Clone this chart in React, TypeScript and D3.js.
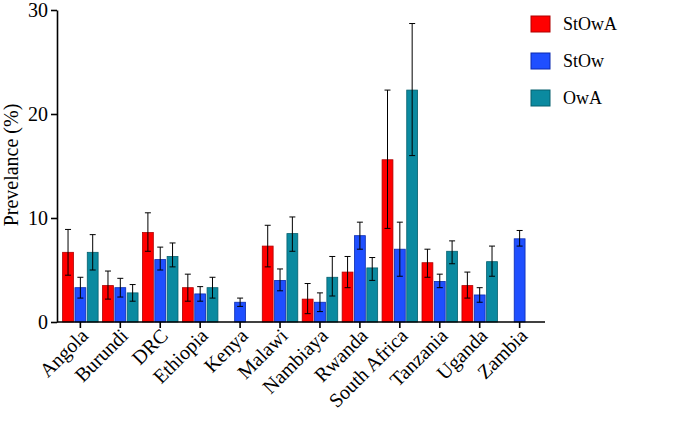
import * as d3 from "d3";
import { useEffect, useRef } from "react";

const countries = ["Angola", "Burundi", "DRC", "Ethiopia", "Kenya", "Malawi", "Nambiaya", "Rwanda", "South Africa", "Tanzania", "Uganda", "Zambia"];
const series = ["StOwA", "StOw", "OwA"];
const colors = ["#ff0000", "#1f4fff", "#0b8aa0"];
const strokes = ["#b00000", "#0a2bb0", "#06606e"];
// [value, upper, lower], null = no bar
const stOwA = [[6.7, 8.9, 4.5], [3.5, 4.9, 2.2], [8.6, 10.5, 6.8], [3.3, 4.6, 2.0], null, [7.3, 9.3, 5.3], [2.2, 3.7, 0.8], [4.8, 6.3, 3.3], [15.6, 22.3, 9.0], [5.7, 7.0, 4.3], [3.5, 4.8, 2.3], null];
const stOw = [[3.3, 4.3, 2.3], [3.3, 4.2, 2.4], [6.0, 7.2, 5.0], [2.7, 3.4, 2.0], [1.9, 2.3, 1.5], [4.0, 5.1, 3.0], [1.9, 2.8, 1.0], [8.3, 9.6, 7.0], [7.0, 9.6, 4.4], [3.9, 4.6, 3.3], [2.6, 3.3, 1.9], [8.0, 8.8, 7.3]];
const owA = [[6.7, 8.4, 5.0], [2.8, 3.6, 2.0], [6.3, 7.6, 5.3], [3.3, 4.3, 2.3], null, [8.5, 10.1, 6.8], [4.3, 6.3, 2.5], [5.2, 6.2, 4.0], [22.3, 28.7, 16.0], [6.8, 7.8, 5.6], [5.8, 7.3, 4.4], null];
const yTicks = [0, 10, 20, 30];

export default function App() {
  const ref = useRef<SVGSVGElement>(null);
  useEffect(() => {
    const svg = d3.select(ref.current);
    svg.selectAll("*").remove();
    const font = "'Liberation Serif', 'Times New Roman', serif";
    const x = d3.scaleBand().domain(countries).range([60, 540]).paddingInner(0.08).paddingOuter(0.05);
    const xs = d3.scaleBand().domain(series).range([0, x.bandwidth()]).paddingInner(0.12).paddingOuter(0.05);
    const y = d3.scaleLinear().domain([0, 30]).range([322, 10]);
    const data = [stOwA, stOw, owA];

    data.forEach((arr, si) => {
      const g = svg.append("g");
      arr.forEach((d, ci) => {
        if (!d) return;
        const bx = x(countries[ci])! + xs(series[si])!;
        const cx = bx + xs.bandwidth() / 2;
        g.append("rect").attr("x", bx).attr("y", y(d[0])).attr("width", xs.bandwidth())
          .attr("height", y(0) - y(d[0])).attr("fill", colors[si]).attr("stroke", strokes[si]).attr("stroke-width", 0.8);
        g.append("line").attr("x1", cx).attr("x2", cx).attr("y1", y(d[1])).attr("y2", y(d[2])).attr("stroke", "#000").attr("stroke-width", 1);
        [d[1], d[2]].forEach((v) => g.append("line").attr("x1", cx - 3).attr("x2", cx + 3).attr("y1", y(v)).attr("y2", y(v)).attr("stroke", "#000").attr("stroke-width", 1));
      });
    });

    const ya = svg.append("g").attr("transform", "translate(57,0)")
      .call(d3.axisLeft(y).tickValues(yTicks).tickSize(6).tickSizeOuter(0));
    ya.selectAll("text").attr("font-family", font).attr("font-size", 20).attr("fill", "#000");
    ya.selectAll("line, path").attr("stroke", "#000").attr("stroke-width", 1.6);

    const xa = svg.append("g").attr("transform", "translate(0,322)")
      .call(d3.axisBottom(x).tickSize(6).tickSizeOuter(0));
    xa.select("path").attr("d", "M57,0H545").attr("stroke", "#000").attr("stroke-width", 1.6);
    xa.selectAll("line").attr("stroke", "#000").attr("stroke-width", 1.6);
    xa.selectAll("text").attr("font-family", font).attr("font-size", 20).attr("fill", "#000")
      .attr("text-anchor", "end").attr("dy", "0.35em").attr("transform", "translate(4,10) rotate(-45)").attr("y", 0).attr("x", 0);

    svg.append("text").attr("transform", "translate(18,165) rotate(-90)").attr("text-anchor", "middle")
      .attr("font-family", font).attr("font-size", 20).text("Prevelance (%)");

    series.forEach((s, i) => {
      const ly = 24 + i * 37;
      svg.append("rect").attr("x", 531).attr("y", ly - 8).attr("width", 19).attr("height", 16)
        .attr("fill", colors[i]).attr("stroke", strokes[i]);
      svg.append("text").attr("x", 563).attr("y", ly).attr("dy", "0.35em")
        .attr("font-family", font).attr("font-size", 18).text(s);
    });
  }, []);
  return <svg ref={ref} width={685} height={438} style={{ position: "absolute", left: 0, top: 0 }} />;
}
